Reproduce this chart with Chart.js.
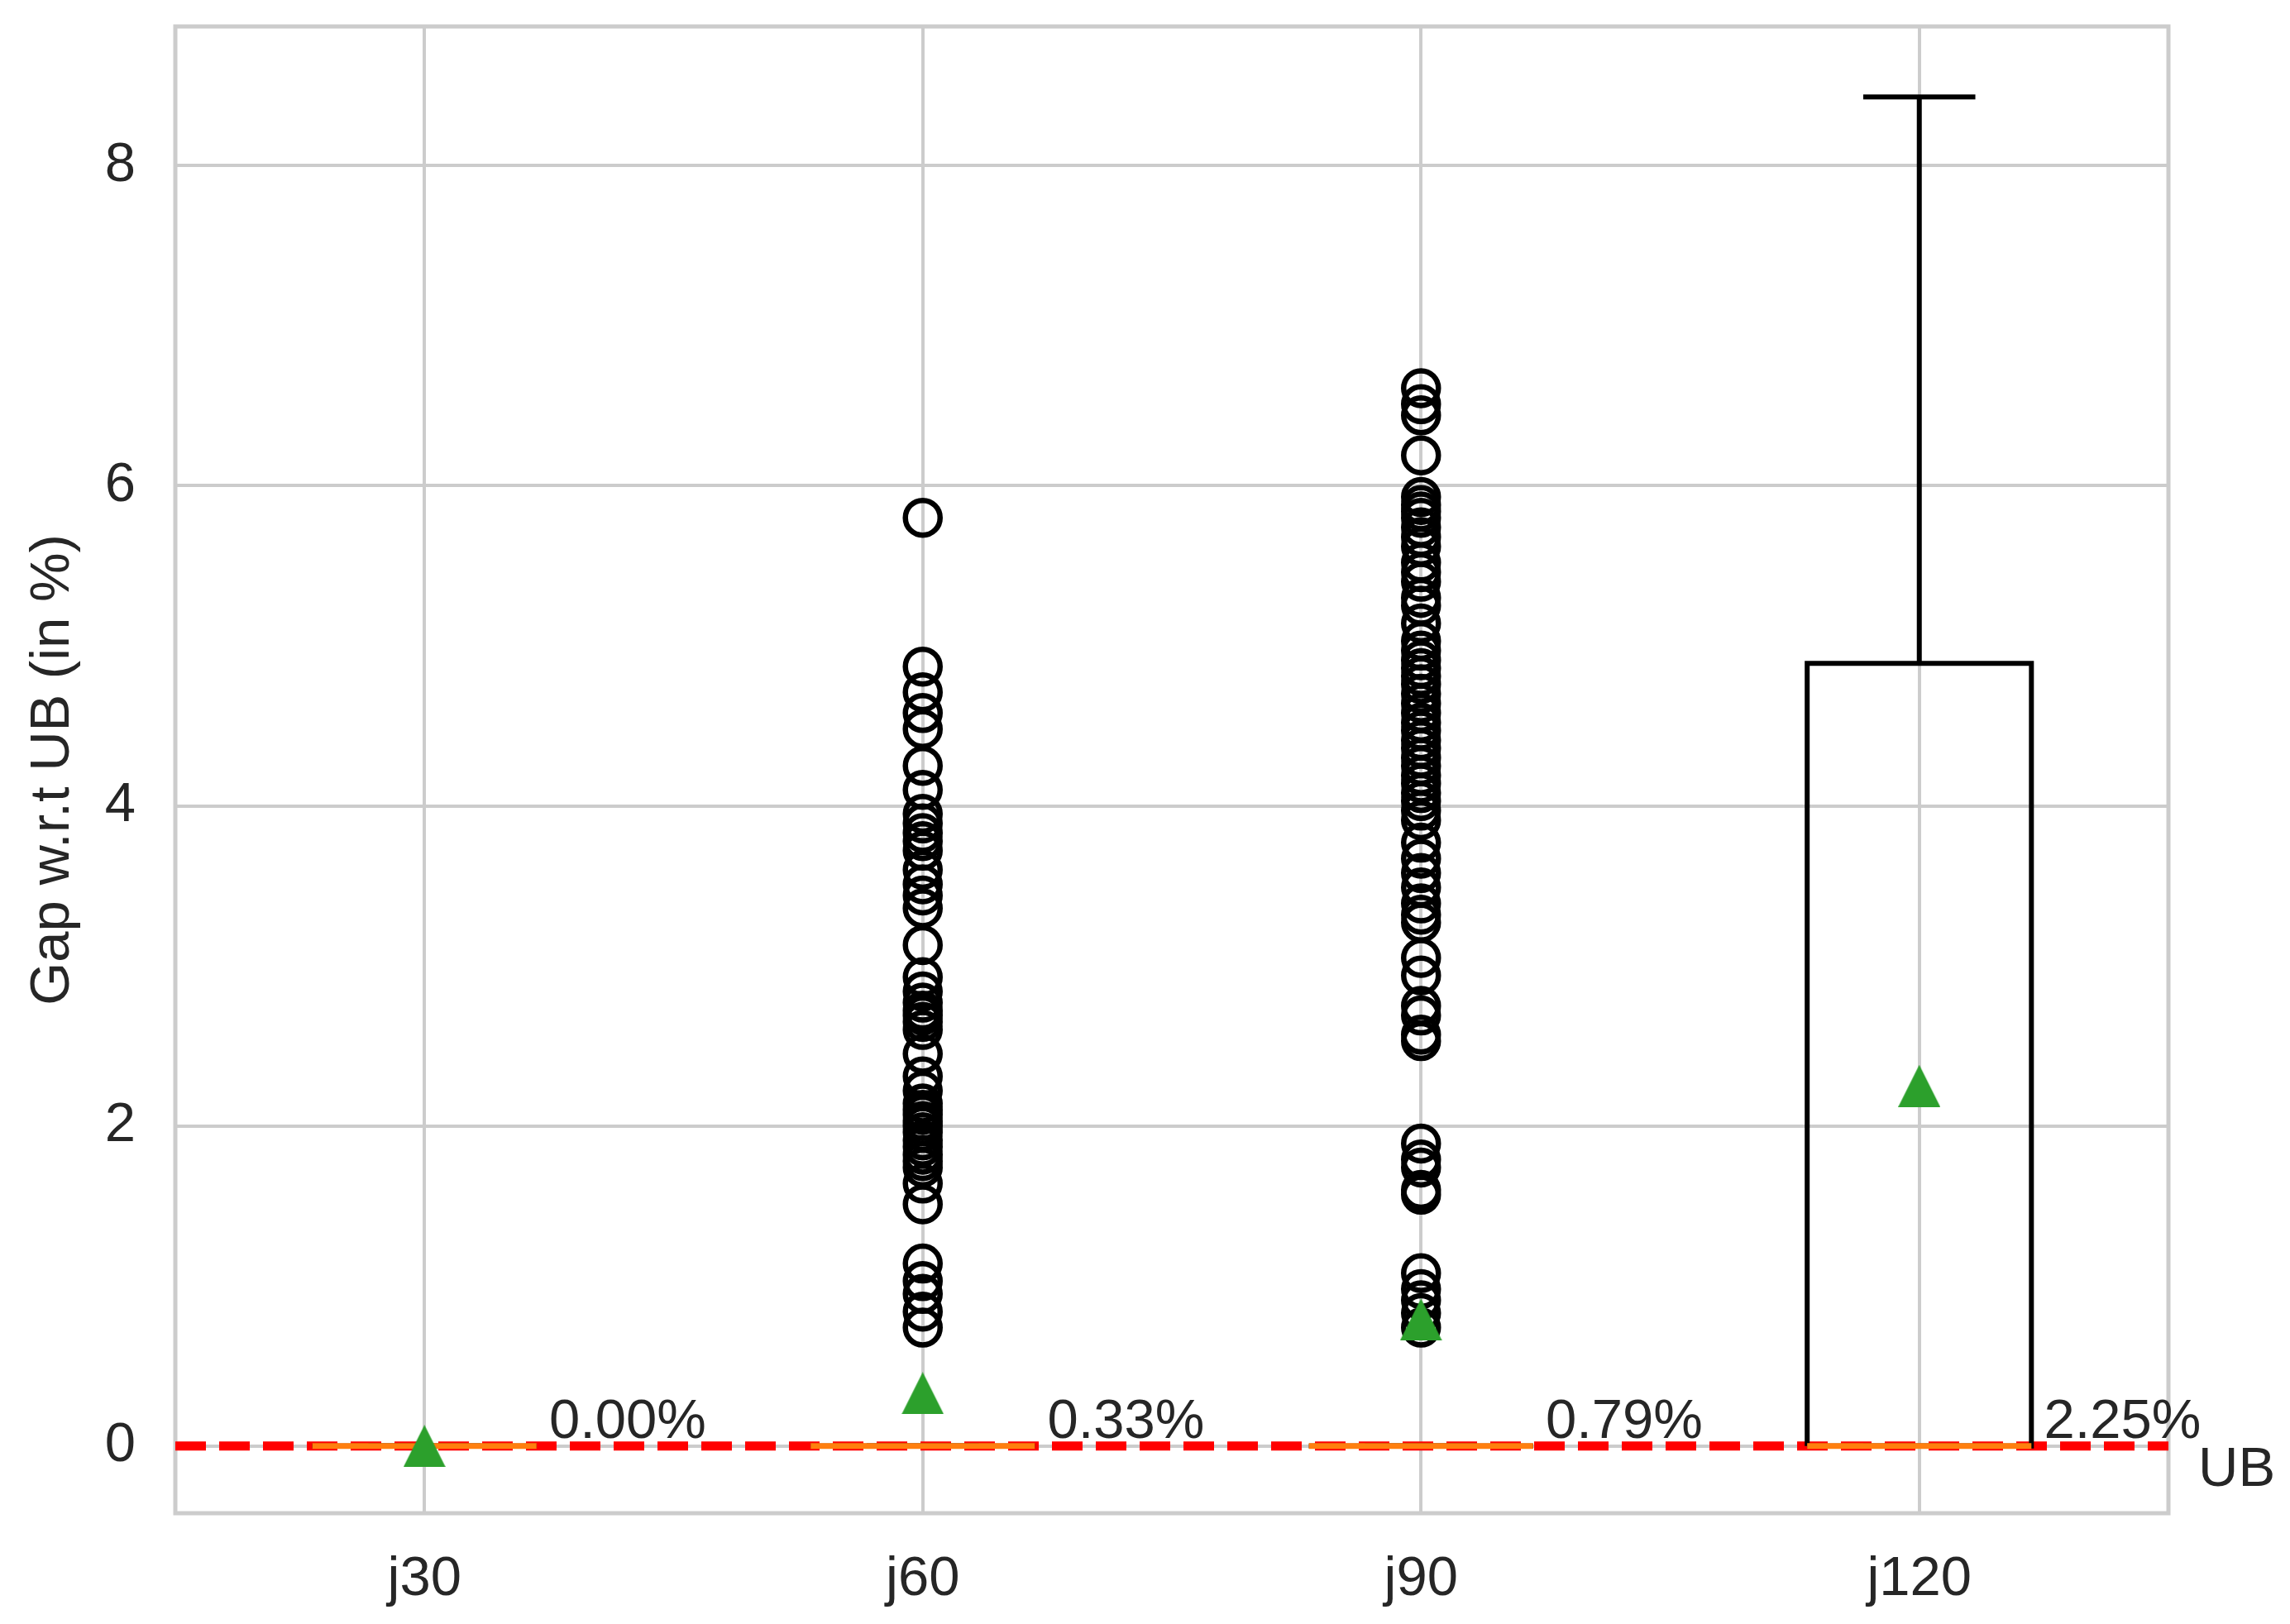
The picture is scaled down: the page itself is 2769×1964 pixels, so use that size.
<!DOCTYPE html>
<html>
<head>
<meta charset="utf-8">
<script src="https://cdn.jsdelivr.net/npm/chart.js@4.4.1/dist/chart.umd.min.js"></script>
<style>
  html, body { margin: 0; padding: 0; background: #fff; }
  #wrap { width: 2769px; height: 1964px; }
</style>
</head>
<body>
<div id="wrap"><canvas id="myChart" width="2769" height="1964"></canvas></div>
<script>
// values
var categories = ['j30', 'j60', 'j90', 'j120'];
var q1Values = [0, 0, 0, 0];
var medianValues = [0, 0, 0, 0];
var q3Values = [0, 0, 0, 4.89];
var whiskerLow = [0, 0, 0, 0];
var whiskerHigh = [0, 0, 0, 8.43];
var meanValues = [0.00, 0.33, 0.79, 2.25];

var fliersJ30 = [];
var fliersJ60 = [5.80, 4.87, 4.71, 4.58, 4.48, 4.25, 4.10, 3.95, 3.89, 3.83, 3.78, 3.72, 3.60, 3.51,
  3.44, 3.36, 3.13, 2.93, 2.84, 2.77, 2.72, 2.69, 2.65, 2.60, 2.45, 2.31, 2.22, 2.14, 2.10, 2.07,
  2.03, 2.00, 1.96, 1.91, 1.87, 1.82, 1.78, 1.74, 1.64, 1.51, 1.14, 1.03, 0.95, 0.84, 0.74];
var fliersJ90 = [6.61, 6.51, 6.44, 6.19, 5.93, 5.88, 5.84, 5.80, 5.74, 5.68, 5.62, 5.52, 5.46,
  5.40, 5.30, 5.25, 5.14, 5.03, 4.97, 4.91, 4.86, 4.81, 4.76, 4.70, 4.64, 4.58, 4.52, 4.47, 4.41,
  4.36, 4.30, 4.25, 4.19, 4.14, 4.08, 4.03, 3.97, 3.91, 3.77, 3.67, 3.58, 3.49, 3.39, 3.32, 3.27,
  3.05, 2.94, 2.75, 2.69, 2.57, 2.53, 1.89, 1.79, 1.74, 1.60, 1.57, 1.08, 0.98, 0.91, 0.83, 0.74];
var fliersJ120 = [];
var fliers = [fliersJ30, fliersJ60, fliersJ90, fliersJ120];

var yTickValues = [0, 2, 4, 6, 8];
var ubValue = 0;
var ubLabel = 'UB';
var yTitle = 'Gap w.r.t UB (in %)';
var yMin = -0.42, yMax = 8.87;

var BOX_W = 0.45, CAP_W = 0.225;
var FONT = "'Liberation Sans', Arial, sans-serif";
var TEXT_COLOR = '#262626';

Chart.defaults.font.family = FONT;
Chart.defaults.font.size = 67;
Chart.defaults.color = TEXT_COLOR;

function seg(points, color, width, order) {
  return {
    data: points,
    showLine: true,
    borderColor: color,
    borderWidth: width,
    borderJoinStyle: 'miter',
    pointRadius: 0,
    fill: false,
    tension: 0,
    order: order
  };
}

function triangleMarker(size, color) {
  var c = document.createElement('canvas');
  c.width = size; c.height = size;
  var g = c.getContext('2d');
  g.fillStyle = color;
  g.beginPath();
  g.moveTo(size / 2, 0);
  g.lineTo(size, size);
  g.lineTo(0, size);
  g.closePath();
  g.fill();
  return c;
}

var datasets = [];

// UB reference line
datasets.push({
  data: [{x: 0.5, y: ubValue}, {x: categories.length + 0.5, y: ubValue}],
  showLine: true,
  borderColor: '#ff0000',
  borderWidth: 11,
  borderDash: [37, 16],
  pointRadius: 0,
  order: 10
});

for (var i = 0; i < categories.length; i++) {
  var x = i + 1, hw = BOX_W / 2, hc = CAP_W / 2;
  datasets.push(seg([{x: x - hw, y: q1Values[i]}, {x: x - hw, y: q3Values[i]}, {x: x + hw, y: q3Values[i]},
    {x: x + hw, y: q1Values[i]}, {x: x - hw, y: q1Values[i]}], '#000000', 6, 5));
  datasets.push(seg([{x: x, y: q3Values[i]}, {x: x, y: whiskerHigh[i]}], '#000000', 6, 5));
  datasets.push(seg([{x: x, y: q1Values[i]}, {x: x, y: whiskerLow[i]}], '#000000', 6, 5));
  datasets.push(seg([{x: x - hc, y: whiskerHigh[i]}, {x: x + hc, y: whiskerHigh[i]}], '#000000', 6, 5));
  datasets.push(seg([{x: x - hc, y: whiskerLow[i]}, {x: x + hc, y: whiskerLow[i]}], '#000000', 6, 5));
  datasets.push(seg([{x: x - hw, y: medianValues[i]}, {x: x + hw, y: medianValues[i]}], '#ff7f0e', 7, 4));
  datasets.push({
    data: fliers[i].map(function (v) { return {x: x, y: v}; }),
    pointStyle: 'circle',
    pointRadius: 21,
    pointBorderWidth: 6.5,
    pointBorderColor: '#000000',
    pointBackgroundColor: 'rgba(0,0,0,0)',
    showLine: false,
    order: 3
  });
}

datasets.push({
  data: meanValues.map(function (v, i) { return {x: i + 1, y: v}; }),
  pointStyle: triangleMarker(51, '#2ca02c'),
  showLine: false,
  order: 2
});

var frame = {
  id: 'frame',
  beforeDatasetsDraw: function (chart) {
    var a = chart.chartArea, ctx = chart.ctx;
    ctx.save();
    ctx.strokeStyle = '#cccccc';
    ctx.lineWidth = 5;
    ctx.strokeRect(a.left, a.top, a.right - a.left, a.bottom - a.top);
    ctx.restore();
  },
  afterDatasetsDraw: function (chart) {
    var ctx = chart.ctx, xs = chart.scales.x, ys = chart.scales.y;
    ctx.save();
    ctx.fillStyle = TEXT_COLOR;
    ctx.font = '67px ' + FONT;
    ctx.textAlign = 'left';
    ctx.textBaseline = 'alphabetic';
    for (var i = 0; i < meanValues.length; i++) {
      ctx.fillText(meanValues[i].toFixed(2) + '%', xs.getPixelForValue(i + 1.25), ys.getPixelForValue(0.05));
    }
    ctx.fillText(ubLabel, xs.getPixelForValue(categories.length + 0.5) + 36, ys.getPixelForValue(ubValue) + 48);
    ctx.restore();
  }
};

var ctx = document.getElementById('myChart').getContext('2d');
var myChart = new Chart(ctx, {
  type: 'scatter',
  data: { datasets: datasets },
  options: {
    responsive: false,
    devicePixelRatio: 1,
    animation: false,
    events: [],
    layout: { padding: { top: 32, right: 147, bottom: 0, left: 0 } },
    plugins: { legend: { display: false }, tooltip: { enabled: false } },
    scales: {
      x: {
        type: 'linear',
        min: 0.5,
        max: categories.length + 0.5,
        afterBuildTicks: function (s) {
          s.ticks = categories.map(function (c, i) { return {value: i + 1}; });
        },
        afterFit: function (s) {
          s.height = 134;
          s.paddingLeft = 0; s.paddingRight = 0;
        },
        ticks: {
          autoSkip: false,
          maxRotation: 0,
          padding: 40,
          callback: function (v) { return categories[v - 1]; }
        },
        grid: { color: '#cccccc', lineWidth: 4, drawTicks: false },
        border: { display: false }
      },
      y: {
        type: 'linear',
        min: yMin,
        max: yMax,
        afterBuildTicks: function (s) {
          s.ticks = yTickValues.map(function (v) { return {value: v}; });
        },
        afterFit: function (s) {
          s.width = 212;
          s.paddingTop = 0; s.paddingBottom = 0;
        },
        ticks: { padding: 48 },
        title: { display: true, text: yTitle, padding: { top: 24, bottom: 0 } },
        grid: { color: '#cccccc', lineWidth: 4, drawTicks: false },
        border: { display: false }
      }
    }
  },
  plugins: [frame]
});
</script>
</body>
</html>
